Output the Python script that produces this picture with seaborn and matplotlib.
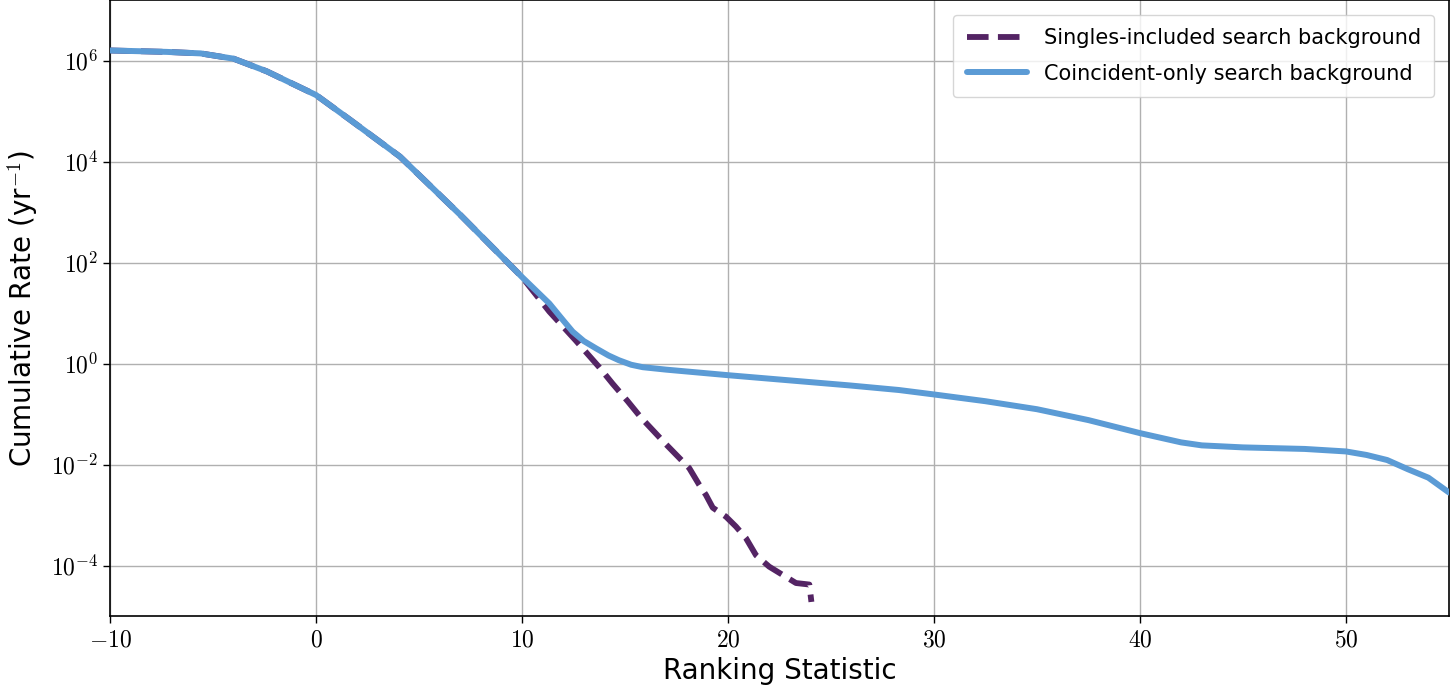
import numpy as np
import pandas as pd
import matplotlib
matplotlib.use("Agg")
import matplotlib.pyplot as plt
import matplotlib.ticker as mticker
import seaborn as sns

# ---- values ----
coinc_stat = [-10, -7.25, -5.6, -4.0, -2.4, 0, 1.65, 4.08, 7, 10, 11.33, 12.0,
              12.46, 13.0, 13.6, 14.2, 14.7, 15.3, 15.86, 17.0, 20, 25.9, 28.3,
              30, 32.5, 35, 37.5, 40, 42, 43, 45, 48, 50, 51, 52, 53, 54, 55]
coinc_rate = [1.6e6, 1.5e6, 1.4e6, 1.1e6, 6.2e5, 2.1e5, 6.8e4, 1.26e4, 8.9e2,
              52, 15.5, 7.2, 4.3, 2.8, 2.0, 1.45, 1.17, 0.95, 0.85, 0.76, 0.59,
              0.37, 0.30, 0.245, 0.18, 0.125, 0.076, 0.042, 0.0275, 0.024,
              0.0219, 0.0204, 0.0182, 0.0155, 0.0123, 0.0081, 0.0055, 0.0028]

singles_stat = [-10, -7.25, -5.6, -4.0, -2.4, 0, 1.65, 4.08, 7, 10, 11.33, 12.6,
                13.75, 14.4, 15.13, 15.78, 17.0, 18.12, 18.6, 18.93, 19.26, 19.9,
                20.39, 20.87, 21.36, 22.0, 23.3, 23.95, 24.05]
singles_rate = [1.6e6, 1.5e6, 1.4e6, 1.1e6, 6.2e5, 2.1e5, 6.8e4, 1.26e4, 8.9e2,
                52, 10.7, 2.9, 0.85, 0.40, 0.18, 0.085, 0.025, 8.5e-3, 4.0e-3,
                2.5e-3, 1.4e-3, 9.3e-4, 5.9e-4, 3.5e-4, 1.6e-4, 9.5e-5, 4.5e-5,
                4.2e-5, 1.9e-5]

singles_label = "Singles-included search background"
coinc_label = "Coincident-only search background"

singles_df = pd.DataFrame({"stat": singles_stat, "rate": singles_rate})
coinc_df = pd.DataFrame({"stat": coinc_stat, "rate": coinc_rate})

sns.set_theme(style="ticks", rc={"text.color": "black", "axes.labelcolor": "black",
                                 "xtick.color": "black", "ytick.color": "black"})
plt.rcParams["font.family"] = ["DejaVu Sans"]
plt.rcParams["mathtext.fontset"] = "cm"

fig = plt.figure(figsize=(14.51, 6.94), dpi=100)
ax = fig.add_axes([0.0758, 0.1124, 0.9228, 0.8876])

sns.lineplot(data=singles_df, x="stat", y="rate", ax=ax, sort=False,
             color="#542464", lw=4.2, linestyle="--", label=singles_label, zorder=2)
sns.lineplot(data=coinc_df, x="stat", y="rate", ax=ax, sort=False,
             color="#5B9BD5", lw=4.3, label=coinc_label, zorder=3)

ax.set_yscale("log")
ax.set_xlim(-10, 55)
ax.set_ylim(1e-5, 1.6e7)
ax.yaxis.set_major_locator(mticker.FixedLocator([1e-4, 1e-2, 1e0, 1e2, 1e4, 1e6]))
ax.yaxis.set_minor_locator(mticker.NullLocator())
ax.yaxis.set_major_formatter(mticker.FuncFormatter(
    lambda v, p: r"$10^{%d}$" % int(round(np.log10(v)))))
ax.xaxis.set_major_locator(mticker.MultipleLocator(10))
ax.xaxis.set_major_formatter(mticker.FuncFormatter(lambda v, p: r"$%d$" % v))

ax.grid(True, color="#b0b0b0", lw=1.0)
ax.tick_params(axis="both", labelsize=17, length=5, width=1, color="black")
for s in ax.spines.values():
    s.set_color("black")
    s.set_linewidth(1.2)

ax.set_xlabel("Ranking Statistic", fontsize=20)
ax.set_ylabel(r"Cumulative Rate (yr$^{\mathsf{-1}}$)", fontsize=20, labelpad=8)

ax.legend(loc="upper right", fontsize=15, frameon=True, fancybox=True,
          framealpha=0.8, edgecolor="#cccccc", handlelength=2.9,
          labelspacing=0.75, borderpad=0.65, borderaxespad=0.7)

fig.savefig("out.png", dpi=100)
